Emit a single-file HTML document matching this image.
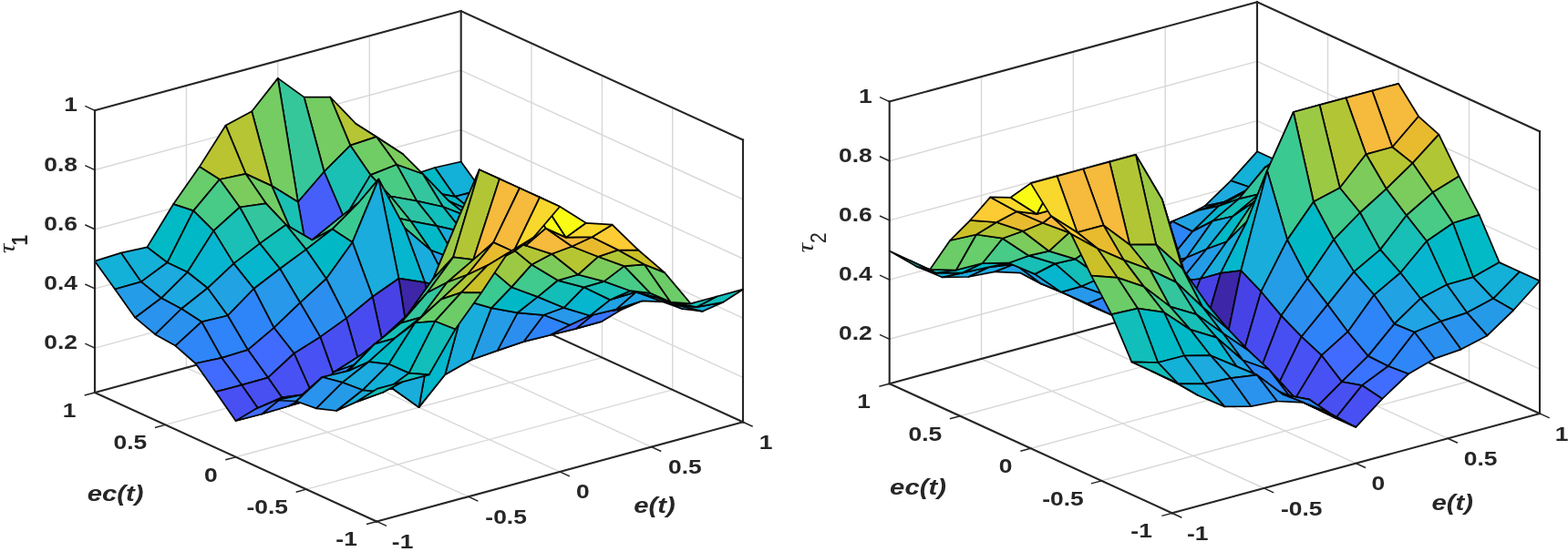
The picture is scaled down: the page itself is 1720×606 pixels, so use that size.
<!DOCTYPE html>
<html><head><meta charset="utf-8"><title>Fuzzy control surfaces</title>
<style>
html,body{margin:0;padding:0;background:#fff;}
body{width:1720px;height:606px;overflow:hidden;}
svg{display:block;filter:blur(0.55px);}
text{font-family:"Liberation Sans",Arial,sans-serif;font-weight:bold;fill:#262626;}
</style></head><body>
<svg width="1720" height="606" viewBox="0 0 1720 606">
<rect width="1720" height="606" fill="#ffffff"/>
<line x1="513.7" y1="545.2" x2="204.4" y2="403.7" stroke="#d8d8d8" stroke-width="1.4"/>
<line x1="336.0" y1="537.1" x2="737.7" y2="427.9" stroke="#d8d8d8" stroke-width="1.4"/>
<line x1="204.4" y1="403.7" x2="204.4" y2="94.0" stroke="#d8d8d8" stroke-width="1.4"/>
<line x1="737.7" y1="427.9" x2="737.7" y2="118.2" stroke="#d8d8d8" stroke-width="1.4"/>
<line x1="614.1" y1="517.9" x2="304.8" y2="376.4" stroke="#d8d8d8" stroke-width="1.4"/>
<line x1="258.6" y1="501.8" x2="660.4" y2="392.6" stroke="#d8d8d8" stroke-width="1.4"/>
<line x1="304.8" y1="376.4" x2="304.8" y2="66.7" stroke="#d8d8d8" stroke-width="1.4"/>
<line x1="660.4" y1="392.6" x2="660.4" y2="82.9" stroke="#d8d8d8" stroke-width="1.4"/>
<line x1="714.6" y1="490.6" x2="405.3" y2="349.1" stroke="#d8d8d8" stroke-width="1.4"/>
<line x1="181.3" y1="466.4" x2="583.0" y2="357.2" stroke="#d8d8d8" stroke-width="1.4"/>
<line x1="405.3" y1="349.1" x2="405.3" y2="39.4" stroke="#d8d8d8" stroke-width="1.4"/>
<line x1="583.0" y1="357.2" x2="583.0" y2="47.5" stroke="#d8d8d8" stroke-width="1.4"/>
<line x1="104.0" y1="382.1" x2="505.7" y2="272.9" stroke="#d8d8d8" stroke-width="1.4"/>
<line x1="505.7" y1="272.9" x2="815.0" y2="414.4" stroke="#d8d8d8" stroke-width="1.4"/>
<line x1="104.0" y1="316.9" x2="505.7" y2="207.7" stroke="#d8d8d8" stroke-width="1.4"/>
<line x1="505.7" y1="207.7" x2="815.0" y2="349.2" stroke="#d8d8d8" stroke-width="1.4"/>
<line x1="104.0" y1="251.7" x2="505.7" y2="142.5" stroke="#d8d8d8" stroke-width="1.4"/>
<line x1="505.7" y1="142.5" x2="815.0" y2="284.0" stroke="#d8d8d8" stroke-width="1.4"/>
<line x1="104.0" y1="186.5" x2="505.7" y2="77.3" stroke="#d8d8d8" stroke-width="1.4"/>
<line x1="505.7" y1="77.3" x2="815.0" y2="218.8" stroke="#d8d8d8" stroke-width="1.4"/>
<line x1="104.0" y1="431.0" x2="505.7" y2="321.8" stroke="#262626" stroke-width="2.1" stroke-linecap="square"/>
<line x1="505.7" y1="321.8" x2="815.0" y2="463.3" stroke="#262626" stroke-width="2.1" stroke-linecap="square"/>
<line x1="505.7" y1="321.8" x2="505.7" y2="12.1" stroke="#262626" stroke-width="2.1" stroke-linecap="square"/>
<line x1="104.0" y1="121.3" x2="505.7" y2="12.1" stroke="#262626" stroke-width="2.1" stroke-linecap="square"/>
<line x1="505.7" y1="12.1" x2="815.0" y2="153.6" stroke="#262626" stroke-width="2.1" stroke-linecap="square"/>
<line x1="815.0" y1="463.3" x2="815.0" y2="153.6" stroke="#262626" stroke-width="2.1" stroke-linecap="square"/>
<g stroke="#050505" stroke-width="1.75" stroke-linejoin="round"><polygon points="499.1,215.8 527.8,208.3 505.7,177.5 477.0,184.0" fill="#13b0d7"/><polygon points="470.4,210.3 499.1,215.8 477.0,184.0 448.3,193.4" fill="#01bac5"/><polygon points="441.7,169.0 470.4,210.3 448.3,193.4 419.6,161.8" fill="#68cd6b"/><polygon points="413.0,150.2 441.7,169.0 419.6,161.8 390.9,136.3" fill="#b9c430"/><polygon points="384.3,159.7 413.0,150.2 390.9,136.3 362.2,106.5" fill="#b5c533"/><polygon points="355.6,188.5 384.3,159.7 362.2,106.5 333.5,106.6" fill="#74cc62"/><polygon points="326.9,221.8 355.6,188.5 333.5,106.6 304.8,85.9" fill="#35c79a"/><polygon points="298.2,204.1 326.9,221.8 304.8,85.9 276.2,122.2" fill="#74cc62"/><polygon points="269.6,190.9 298.2,204.1 276.2,122.2 247.5,137.7" fill="#b5c533"/><polygon points="240.9,197.0 269.6,190.9 247.5,137.7 218.8,183.1" fill="#b9c430"/><polygon points="212.2,231.4 240.9,197.0 218.8,183.1 190.1,224.2" fill="#68cd6b"/><polygon points="183.5,288.3 212.2,231.4 190.1,224.2 161.4,271.4" fill="#01bac5"/><polygon points="154.8,309.4 183.5,288.3 161.4,271.4 132.7,277.6" fill="#13b0d7"/><polygon points="126.1,317.5 154.8,309.4 132.7,277.6 104.0,286.7" fill="#13b0d7"/><polygon points="521.2,233.7 549.9,239.5 527.8,208.3 499.1,215.8" fill="#1caadf"/><polygon points="492.5,220.8 521.2,233.7 499.1,215.8 470.4,210.3" fill="#01b9c6"/><polygon points="463.8,191.0 492.5,220.8 470.4,210.3 441.7,169.0" fill="#47cb87"/><polygon points="435.1,180.7 463.8,191.0 441.7,169.0 413.0,150.2" fill="#7bcc5d"/><polygon points="406.4,192.1 435.1,180.7 413.0,150.2 384.3,159.7" fill="#70cd65"/><polygon points="377.7,240.0 406.4,192.1 384.3,159.7 355.6,188.5" fill="#1bc0b4"/><polygon points="349.0,344.9 377.7,240.0 355.6,188.5 326.9,221.8" fill="#465ffb"/><polygon points="320.3,255.6 349.0,344.9 326.9,221.8 298.2,204.1" fill="#1bc0b4"/><polygon points="291.7,223.3 320.3,255.6 298.2,204.1 269.6,190.9" fill="#70cd65"/><polygon points="263.0,227.5 291.7,223.3 269.6,190.9 240.9,197.0" fill="#7bcc5d"/><polygon points="234.3,253.4 263.0,227.5 240.9,197.0 212.2,231.4" fill="#47cb87"/><polygon points="205.6,298.8 234.3,253.4 212.2,231.4 183.5,288.3" fill="#01b9c6"/><polygon points="176.9,327.3 205.6,298.8 183.5,288.3 154.8,309.4" fill="#1caadf"/><polygon points="148.2,348.7 176.9,327.3 154.8,309.4 126.1,317.5" fill="#259ce7"/><polygon points="543.3,245.4 572.0,258.0 549.9,239.5 521.2,233.7" fill="#1da8e0"/><polygon points="514.6,238.3 543.3,245.4 521.2,233.7 492.5,220.8" fill="#08b5d0"/><polygon points="485.9,227.0 514.6,238.3 492.5,220.8 463.8,191.0" fill="#1ac0b5"/><polygon points="457.2,220.6 485.9,227.0 463.8,191.0 435.1,180.7" fill="#33c69e"/><polygon points="428.5,215.5 457.2,220.6 435.1,180.7 406.4,192.1" fill="#4acb84"/><polygon points="399.8,247.8 428.5,215.5 406.4,192.1 377.7,240.0" fill="#20c1b1"/><polygon points="371.1,240.1 399.8,247.8 377.7,240.0 349.0,344.9" fill="#37c897"/><polygon points="342.4,263.4 371.1,240.1 349.0,344.9 320.3,255.6" fill="#20c1b1"/><polygon points="313.7,246.7 342.4,263.4 320.3,255.6 291.7,223.3" fill="#4acb84"/><polygon points="285.0,267.4 313.7,246.7 291.7,223.3 263.0,227.5" fill="#33c69e"/><polygon points="256.4,289.4 285.0,267.4 263.0,227.5 234.3,253.4" fill="#1ac0b5"/><polygon points="227.7,316.3 256.4,289.4 234.3,253.4 205.6,298.8" fill="#08b5d0"/><polygon points="199.0,339.0 227.7,316.3 205.6,298.8 176.9,327.3" fill="#1da8e0"/><polygon points="170.3,367.2 199.0,339.0 176.9,327.3 148.2,348.7" fill="#2a93ed"/><polygon points="565.4,259.7 594.1,270.4 572.0,258.0 543.3,245.4" fill="#20a4e3"/><polygon points="536.7,268.5 565.4,259.7 543.3,245.4 514.6,238.3" fill="#21a3e3"/><polygon points="508.0,254.6 536.7,268.5 514.6,238.3 485.9,227.0" fill="#05b6ce"/><polygon points="479.3,248.2 508.0,254.6 485.9,227.0 457.2,220.6" fill="#11beba"/><polygon points="450.6,242.7 479.3,248.2 457.2,220.6 428.5,215.5" fill="#2dc4a5"/><polygon points="421.9,236.0 450.6,242.7 428.5,215.5 399.8,247.8" fill="#44cb8a"/><polygon points="393.2,222.7 421.9,236.0 399.8,247.8 371.1,240.1" fill="#81cc59"/><polygon points="364.5,251.6 393.2,222.7 371.1,240.1 342.4,263.4" fill="#44cb8a"/><polygon points="335.8,273.9 364.5,251.6 342.4,263.4 313.7,246.7" fill="#2dc4a5"/><polygon points="307.1,295.0 335.8,273.9 313.7,246.7 285.0,267.4" fill="#11beba"/><polygon points="278.4,317.0 307.1,295.0 285.0,267.4 256.4,289.4" fill="#05b6ce"/><polygon points="249.8,346.5 278.4,317.0 256.4,289.4 227.7,316.3" fill="#21a3e3"/><polygon points="221.1,353.3 249.8,346.5 227.7,316.3 199.0,339.0" fill="#20a4e3"/><polygon points="192.4,379.6 221.1,353.3 199.0,339.0 170.3,367.2" fill="#2b91ef"/><polygon points="587.5,299.3 616.2,289.8 594.1,270.4 565.4,259.7" fill="#2e84f8"/><polygon points="558.8,306.1 587.5,299.3 565.4,259.7 536.7,268.5" fill="#2e85f8"/><polygon points="530.1,297.4 558.8,306.1 536.7,268.5 508.0,254.6" fill="#2798ea"/><polygon points="501.4,285.5 530.1,297.4 508.0,254.6 479.3,248.2" fill="#1aabdd"/><polygon points="472.7,274.8 501.4,285.5 479.3,248.2 450.6,242.7" fill="#01b9c6"/><polygon points="444.0,250.3 472.7,274.8 450.6,242.7 421.9,236.0" fill="#3bc992"/><polygon points="415.3,196.6 444.0,250.3 421.9,236.0 393.2,222.7" fill="#e5bb2d"/><polygon points="386.6,265.9 415.3,196.6 393.2,222.7 364.5,251.6" fill="#3bc992"/><polygon points="357.9,306.0 386.6,265.9 364.5,251.6 335.8,273.9" fill="#01b9c6"/><polygon points="329.2,332.3 357.9,306.0 335.8,273.9 307.1,295.0" fill="#1aabdd"/><polygon points="300.5,359.8 329.2,332.3 307.1,295.0 278.4,317.0" fill="#2798ea"/><polygon points="271.9,384.1 300.5,359.8 278.4,317.0 249.8,346.5" fill="#2e85f8"/><polygon points="243.2,392.9 271.9,384.1 249.8,346.5 221.1,353.3" fill="#2e84f8"/><polygon points="214.5,399.0 243.2,392.9 221.1,353.3 192.4,379.6" fill="#2e86f7"/><polygon points="609.6,329.1 638.3,321.0 616.2,289.8 587.5,299.3" fill="#416bfe"/><polygon points="580.9,336.6 609.6,329.1 587.5,299.3 558.8,306.1" fill="#416bfe"/><polygon points="552.2,325.6 580.9,336.6 558.8,306.1 530.1,297.4" fill="#2e83f9"/><polygon points="523.5,323.1 552.2,325.6 530.1,297.4 501.4,285.5" fill="#2c8ff0"/><polygon points="494.8,318.2 523.5,323.1 501.4,285.5 472.7,274.8" fill="#259de7"/><polygon points="466.1,310.2 494.8,318.2 472.7,274.8 444.0,250.3" fill="#19acdc"/><polygon points="437.4,305.7 466.1,310.2 444.0,250.3 415.3,196.6" fill="#05b6ce"/><polygon points="408.7,325.8 437.4,305.7 415.3,196.6 386.6,265.9" fill="#19acdc"/><polygon points="380.0,349.4 408.7,325.8 386.6,265.9 357.9,306.0" fill="#259de7"/><polygon points="351.3,369.9 380.0,349.4 357.9,306.0 329.2,332.3" fill="#2c8ff0"/><polygon points="322.6,388.0 351.3,369.9 329.2,332.3 300.5,359.8" fill="#2e83f9"/><polygon points="293.9,414.6 322.6,388.0 300.5,359.8 271.9,384.1" fill="#416bfe"/><polygon points="265.2,422.7 293.9,414.6 271.9,384.1 243.2,392.9" fill="#416bfe"/><polygon points="236.6,430.2 265.2,422.7 243.2,392.9 214.5,399.0" fill="#416bfe"/><polygon points="631.7,360.9 660.4,352.8 638.3,321.0 609.6,329.1" fill="#4850f2"/><polygon points="603.0,368.0 631.7,360.9 609.6,329.1 580.9,336.6" fill="#4851f3"/><polygon points="574.3,375.2 603.0,368.0 580.9,336.6 552.2,325.6" fill="#4851f4"/><polygon points="545.6,384.9 574.3,375.2 552.2,325.6 523.5,323.1" fill="#484ff2"/><polygon points="516.9,395.0 545.6,384.9 523.5,323.1 494.8,318.2" fill="#484cf0"/><polygon points="488.2,411.2 516.9,395.0 494.8,318.2 466.1,310.2" fill="#4742e6"/><polygon points="459.5,447.1 488.2,411.2 466.1,310.2 437.4,305.7" fill="#3e26a8"/><polygon points="430.8,426.8 459.5,447.1 437.4,305.7 408.7,325.8" fill="#4742e6"/><polygon points="402.1,426.2 430.8,426.8 408.7,325.8 380.0,349.4" fill="#484cf0"/><polygon points="373.4,431.7 402.1,426.2 380.0,349.4 351.3,369.9" fill="#484ff2"/><polygon points="344.7,437.6 373.4,431.7 351.3,369.9 322.6,388.0" fill="#4851f4"/><polygon points="316.0,446.0 344.7,437.6 322.6,388.0 293.9,414.6" fill="#4851f3"/><polygon points="287.3,454.5 316.0,446.0 293.9,414.6 265.2,422.7" fill="#4850f2"/><polygon points="258.6,462.0 287.3,454.5 265.2,422.7 236.6,430.2" fill="#4850f3"/><polygon points="653.8,342.8 682.4,339.6 660.4,352.8 631.7,360.9" fill="#3a73fe"/><polygon points="625.1,356.8 653.8,342.8 631.7,360.9 603.0,368.0" fill="#416bfe"/><polygon points="596.4,345.8 625.1,356.8 603.0,368.0 574.3,375.2" fill="#2e83f9"/><polygon points="567.7,343.3 596.4,345.8 574.3,375.2 545.6,384.9" fill="#2c8ff0"/><polygon points="539.0,338.1 567.7,343.3 545.6,384.9 516.9,395.0" fill="#249de6"/><polygon points="510.3,329.8 539.0,338.1 516.9,395.0 488.2,411.2" fill="#19addc"/><polygon points="481.6,324.6 510.3,329.8 488.2,411.2 459.5,447.1" fill="#03b7cc"/><polygon points="452.9,345.4 481.6,324.6 459.5,447.1 430.8,426.8" fill="#19addc"/><polygon points="424.2,369.3 452.9,345.4 430.8,426.8 402.1,426.2" fill="#249de6"/><polygon points="395.5,390.1 424.2,369.3 402.1,426.2 373.4,431.7" fill="#2c8ff0"/><polygon points="366.8,408.2 395.5,390.1 373.4,431.7 344.7,437.6" fill="#2e83f9"/><polygon points="338.1,434.8 366.8,408.2 344.7,437.6 316.0,446.0" fill="#416bfe"/><polygon points="309.4,436.4 338.1,434.8 316.0,446.0 287.3,454.5" fill="#3a73fe"/><polygon points="280.7,448.8 309.4,436.4 287.3,454.5 258.6,462.0" fill="#406dfe"/><polygon points="675.8,339.7 704.5,330.3 682.4,339.6 653.8,342.8" fill="#2e84f8"/><polygon points="647.1,346.5 675.8,339.7 653.8,342.8 625.1,356.8" fill="#2e85f8"/><polygon points="618.5,337.8 647.1,346.5 625.1,356.8 596.4,345.8" fill="#2798ea"/><polygon points="589.8,325.9 618.5,337.8 596.4,345.8 567.7,343.3" fill="#1aabdd"/><polygon points="561.1,315.2 589.8,325.9 567.7,343.3 539.0,338.1" fill="#01b9c6"/><polygon points="532.4,290.7 561.1,315.2 539.0,338.1 510.3,329.8" fill="#3bc992"/><polygon points="503.7,237.7 532.4,290.7 510.3,329.8 481.6,324.6" fill="#e3bb2c"/><polygon points="475.0,306.3 503.7,237.7 481.6,324.6 452.9,345.4" fill="#3bc992"/><polygon points="446.3,346.4 475.0,306.3 452.9,345.4 424.2,369.3" fill="#01b9c6"/><polygon points="417.6,372.7 446.3,346.4 424.2,369.3 395.5,390.1" fill="#1aabdd"/><polygon points="388.9,400.2 417.6,372.7 395.5,390.1 366.8,408.2" fill="#2798ea"/><polygon points="360.2,424.5 388.9,400.2 366.8,408.2 338.1,434.8" fill="#2e85f8"/><polygon points="331.5,433.3 360.2,424.5 338.1,434.8 309.4,436.4" fill="#2e84f8"/><polygon points="302.8,439.5 331.5,433.3 309.4,436.4 280.7,448.8" fill="#2e86f7"/><polygon points="697.9,320.4 726.6,331.3 704.5,330.3 675.8,339.7" fill="#20a4e3"/><polygon points="669.2,329.1 697.9,320.4 675.8,339.7 647.1,346.5" fill="#21a3e3"/><polygon points="640.5,315.3 669.2,329.1 647.1,346.5 618.5,337.8" fill="#05b6ce"/><polygon points="611.9,307.8 640.5,315.3 618.5,337.8 589.8,325.9" fill="#14beb8"/><polygon points="583.2,290.4 611.9,307.8 589.8,325.9 561.1,315.2" fill="#40ca8d"/><polygon points="554.5,266.8 583.2,290.4 561.1,315.2 532.4,290.7" fill="#9cc944"/><polygon points="525.8,186.3 554.5,266.8 532.4,290.7 503.7,237.7" fill="#f9fb15"/><polygon points="497.1,282.4 525.8,186.3 503.7,237.7 475.0,306.3" fill="#9cc944"/><polygon points="468.4,321.6 497.1,282.4 475.0,306.3 446.3,346.4" fill="#40ca8d"/><polygon points="439.7,354.6 468.4,321.6 446.3,346.4 417.6,372.7" fill="#14beb8"/><polygon points="411.0,377.7 439.7,354.6 417.6,372.7 388.9,400.2" fill="#05b6ce"/><polygon points="382.3,407.1 411.0,377.7 388.9,400.2 360.2,424.5" fill="#21a3e3"/><polygon points="353.6,414.0 382.3,407.1 360.2,424.5 331.5,433.3" fill="#20a4e3"/><polygon points="324.9,440.5 353.6,414.0 331.5,433.3 302.8,439.5" fill="#2b90ef"/><polygon points="720.0,326.3 748.7,339.2 726.6,331.3 697.9,320.4" fill="#1da8e0"/><polygon points="691.3,319.2 720.0,326.3 697.9,320.4 669.2,329.1" fill="#08b5d0"/><polygon points="662.6,308.9 691.3,319.2 669.2,329.1 640.5,315.3" fill="#17bfb6"/><polygon points="634.0,301.5 662.6,308.9 640.5,315.3 611.9,307.8" fill="#33c69e"/><polygon points="605.3,278.8 634.0,301.5 611.9,307.8 583.2,290.4" fill="#7dcc5b"/><polygon points="576.6,269.5 605.3,278.8 583.2,290.4 554.5,266.8" fill="#b2c635"/><polygon points="547.9,196.4 576.6,269.5 554.5,266.8 525.8,186.3" fill="#f9fb15"/><polygon points="519.2,285.1 547.9,196.4 525.8,186.3 497.1,282.4" fill="#b2c635"/><polygon points="490.5,310.0 519.2,285.1 497.1,282.4 468.4,321.6" fill="#7dcc5b"/><polygon points="461.8,348.3 490.5,310.0 468.4,321.6 439.7,354.6" fill="#33c69e"/><polygon points="433.1,371.3 461.8,348.3 439.7,354.6 411.0,377.7" fill="#17bfb6"/><polygon points="404.4,397.2 433.1,371.3 411.0,377.7 382.3,407.1" fill="#08b5d0"/><polygon points="375.7,419.9 404.4,397.2 382.3,407.1 353.6,414.0" fill="#1da8e0"/><polygon points="347.0,448.4 375.7,419.9 353.6,414.0 324.9,440.5" fill="#2a93ee"/><polygon points="742.1,334.7 770.8,341.8 748.7,339.2 720.0,326.3" fill="#1caadf"/><polygon points="713.4,321.8 742.1,334.7 720.0,326.3 691.3,319.2" fill="#01b9c6"/><polygon points="684.7,292.1 713.4,321.8 691.3,319.2 662.6,308.9" fill="#47cb87"/><polygon points="656.0,281.8 684.7,292.1 662.6,308.9 634.0,301.5" fill="#7bcc5d"/><polygon points="627.4,270.5 656.0,281.8 634.0,301.5 605.3,278.8" fill="#b6c532"/><polygon points="598.7,250.5 627.4,270.5 605.3,278.8 576.6,269.5" fill="#f6ba3c"/><polygon points="570.0,206.5 598.7,250.5 576.6,269.5 547.9,196.4" fill="#f9fb15"/><polygon points="541.3,266.1 570.0,206.5 547.9,196.4 519.2,285.1" fill="#f6ba3c"/><polygon points="512.6,301.7 541.3,266.1 519.2,285.1 490.5,310.0" fill="#b6c532"/><polygon points="483.9,328.6 512.6,301.7 490.5,310.0 461.8,348.3" fill="#7bcc5d"/><polygon points="455.2,354.5 483.9,328.6 461.8,348.3 433.1,371.3" fill="#47cb87"/><polygon points="426.5,399.8 455.2,354.5 433.1,371.3 404.4,397.2" fill="#01b9c6"/><polygon points="397.8,428.3 426.5,399.8 404.4,397.2 375.7,419.9" fill="#1caadf"/><polygon points="369.1,451.0 397.8,428.3 375.7,419.9 347.0,448.4" fill="#259be8"/><polygon points="764.2,337.1 792.9,331.9 770.8,341.8 742.1,334.7" fill="#13b0d7"/><polygon points="735.5,331.6 764.2,337.1 742.1,334.7 713.4,321.8" fill="#01bac5"/><polygon points="706.8,290.3 735.5,331.6 713.4,321.8 684.7,292.1" fill="#68cd6b"/><polygon points="678.1,274.4 706.8,290.3 684.7,292.1 656.0,281.8" fill="#b1c635"/><polygon points="649.4,260.2 678.1,274.4 656.0,281.8 627.4,270.5" fill="#e8bb2f"/><polygon points="620.8,260.6 649.4,260.2 627.4,270.5 598.7,250.5" fill="#f6ba3c"/><polygon points="592.1,216.6 620.8,260.6 598.7,250.5 570.0,206.5" fill="#f9fb15"/><polygon points="563.4,276.2 592.1,216.6 570.0,206.5 541.3,266.1" fill="#f6ba3c"/><polygon points="534.7,291.4 563.4,276.2 541.3,266.1 512.6,301.7" fill="#e8bb2f"/><polygon points="506.0,321.2 534.7,291.4 512.6,301.7 483.9,328.6" fill="#b1c635"/><polygon points="477.3,352.7 506.0,321.2 483.9,328.6 455.2,354.5" fill="#68cd6b"/><polygon points="448.6,409.6 477.3,352.7 455.2,354.5 426.5,399.8" fill="#01bac5"/><polygon points="419.9,430.7 448.6,409.6 426.5,399.8 397.8,428.3" fill="#13b0d7"/><polygon points="391.2,441.1 419.9,430.7 397.8,428.3 369.1,451.0" fill="#17aeda"/><polygon points="786.3,325.5 815.0,317.7 792.9,331.9 764.2,337.1" fill="#12beb9"/><polygon points="757.6,333.3 786.3,325.5 764.2,337.1 735.5,331.6" fill="#12beb9"/><polygon points="728.9,299.1 757.6,333.3 735.5,331.6 706.8,290.3" fill="#6ccd68"/><polygon points="700.2,274.5 728.9,299.1 706.8,290.3 678.1,274.4" fill="#ccc028"/><polygon points="671.5,246.7 700.2,274.5 678.1,274.4 649.4,260.2" fill="#fdcb33"/><polygon points="642.8,244.8 671.5,246.7 649.4,260.2 620.8,260.6" fill="#f8d82c"/><polygon points="614.1,226.8 642.8,244.8 620.8,260.6 592.1,216.6" fill="#f9fb15"/><polygon points="585.5,260.4 614.1,226.8 592.1,216.6 563.4,276.2" fill="#f8d82c"/><polygon points="556.8,277.9 585.5,260.4 563.4,276.2 534.7,291.4" fill="#fdcb33"/><polygon points="528.1,321.3 556.8,277.9 534.7,291.4 506.0,321.2" fill="#ccc028"/><polygon points="499.4,361.5 528.1,321.3 506.0,321.2 477.3,352.7" fill="#6ccd68"/><polygon points="470.7,411.3 499.4,361.5 477.3,352.7 448.6,409.6" fill="#12beb9"/><polygon points="442.0,419.1 470.7,411.3 448.6,409.6 419.9,430.7" fill="#12beb9"/><polygon points="413.3,426.9 442.0,419.1 419.9,430.7 391.2,441.1" fill="#12beb9"/></g>
<line x1="104.0" y1="431.0" x2="104.0" y2="121.3" stroke="#262626" stroke-width="2.1" stroke-linecap="square"/>
<line x1="104.0" y1="431.0" x2="413.3" y2="572.5" stroke="#262626" stroke-width="2.1" stroke-linecap="square"/>
<line x1="413.3" y1="572.5" x2="815.0" y2="463.3" stroke="#262626" stroke-width="2.1" stroke-linecap="square"/>
<line x1="413.3" y1="572.5" x2="423.3" y2="577.1" stroke="#262626" stroke-width="1.5" stroke-linecap="square"/>
<line x1="413.3" y1="572.5" x2="402.7" y2="575.4" stroke="#262626" stroke-width="1.5" stroke-linecap="square"/>
<line x1="513.7" y1="545.2" x2="523.7" y2="549.8" stroke="#262626" stroke-width="1.5" stroke-linecap="square"/>
<line x1="336.0" y1="537.1" x2="325.4" y2="540.0" stroke="#262626" stroke-width="1.5" stroke-linecap="square"/>
<line x1="614.1" y1="517.9" x2="624.2" y2="522.5" stroke="#262626" stroke-width="1.5" stroke-linecap="square"/>
<line x1="258.6" y1="501.8" x2="248.0" y2="504.6" stroke="#262626" stroke-width="1.5" stroke-linecap="square"/>
<line x1="714.6" y1="490.6" x2="724.6" y2="495.2" stroke="#262626" stroke-width="1.5" stroke-linecap="square"/>
<line x1="181.3" y1="466.4" x2="170.7" y2="469.3" stroke="#262626" stroke-width="1.5" stroke-linecap="square"/>
<line x1="815.0" y1="463.3" x2="825.0" y2="467.9" stroke="#262626" stroke-width="1.5" stroke-linecap="square"/>
<line x1="104.0" y1="431.0" x2="93.4" y2="433.9" stroke="#262626" stroke-width="1.5" stroke-linecap="square"/>
<line x1="104.0" y1="382.1" x2="94.0" y2="377.5" stroke="#262626" stroke-width="1.5" stroke-linecap="square"/>
<line x1="104.0" y1="316.9" x2="94.0" y2="312.3" stroke="#262626" stroke-width="1.5" stroke-linecap="square"/>
<line x1="104.0" y1="251.7" x2="94.0" y2="247.1" stroke="#262626" stroke-width="1.5" stroke-linecap="square"/>
<line x1="104.0" y1="186.5" x2="94.0" y2="181.9" stroke="#262626" stroke-width="1.5" stroke-linecap="square"/>
<line x1="104.0" y1="121.3" x2="94.0" y2="116.7" stroke="#262626" stroke-width="1.5" stroke-linecap="square"/>
<text transform="translate(85.0,122.4) scale(1.200,1)" font-size="22" text-anchor="end" font-weight="bold">1</text>
<text transform="translate(85.0,187.6) scale(1.200,1)" font-size="22" text-anchor="end" font-weight="bold">0.8</text>
<text transform="translate(85.0,252.8) scale(1.200,1)" font-size="22" text-anchor="end" font-weight="bold">0.6</text>
<text transform="translate(85.0,318.0) scale(1.200,1)" font-size="22" text-anchor="end" font-weight="bold">0.4</text>
<text transform="translate(85.0,383.2) scale(1.200,1)" font-size="22" text-anchor="end" font-weight="bold">0.2</text>
<text transform="translate(76.2,457.5) scale(1.200,1)" font-size="22" text-anchor="middle" font-weight="bold">1</text>
<text transform="translate(142.9,493.4) scale(1.200,1)" font-size="22" text-anchor="middle" font-weight="bold">0.5</text>
<text transform="translate(231.3,528.9) scale(1.200,1)" font-size="22" text-anchor="middle" font-weight="bold">0</text>
<text transform="translate(293.2,563.7) scale(1.200,1)" font-size="22" text-anchor="middle" font-weight="bold">-0.5</text>
<text transform="translate(380.1,599.0) scale(1.200,1)" font-size="22" text-anchor="middle" font-weight="bold">-1</text>
<text transform="translate(441.6,601.7) scale(1.200,1)" font-size="22" text-anchor="middle" font-weight="bold">-1</text>
<text transform="translate(555.1,574.7) scale(1.200,1)" font-size="22" text-anchor="middle" font-weight="bold">-0.5</text>
<text transform="translate(639.3,547.4) scale(1.200,1)" font-size="22" text-anchor="middle" font-weight="bold">0</text>
<text transform="translate(751.3,520.4) scale(1.200,1)" font-size="22" text-anchor="middle" font-weight="bold">0.5</text>
<text transform="translate(840.0,493.3) scale(1.200,1)" font-size="22" text-anchor="middle" font-weight="bold">1</text>
<text transform="translate(126.7,549.9) scale(1.220,1)" font-size="24" text-anchor="middle" font-weight="bold" font-style="italic">ec(t)</text>
<text transform="translate(718.0,563.4) scale(1.220,1)" font-size="24" text-anchor="middle" font-weight="bold" font-style="italic">e(t)</text>
<text transform="translate(15.7,278.2) rotate(-90) scale(1.3,1.12)" style="font-family:'Liberation Serif',serif;font-weight:normal;font-style:italic" font-size="23">τ</text>
<text transform="translate(29.7,269.4) rotate(-90) scale(1,1.18)" style="font-weight:bold" font-size="21">1</text><line x1="1386.5" y1="536.0" x2="1076.5" y2="393.9" stroke="#d8d8d8" stroke-width="1.4"/>
<line x1="1208.2" y1="527.8" x2="1611.5" y2="418.5" stroke="#d8d8d8" stroke-width="1.4"/>
<line x1="1076.5" y1="393.9" x2="1076.5" y2="84.2" stroke="#d8d8d8" stroke-width="1.4"/>
<line x1="1611.5" y1="418.5" x2="1611.5" y2="108.8" stroke="#d8d8d8" stroke-width="1.4"/>
<line x1="1487.3" y1="508.6" x2="1177.3" y2="366.6" stroke="#d8d8d8" stroke-width="1.4"/>
<line x1="1130.7" y1="492.2" x2="1534.0" y2="383.0" stroke="#d8d8d8" stroke-width="1.4"/>
<line x1="1177.3" y1="366.6" x2="1177.3" y2="56.9" stroke="#d8d8d8" stroke-width="1.4"/>
<line x1="1534.0" y1="383.0" x2="1534.0" y2="73.3" stroke="#d8d8d8" stroke-width="1.4"/>
<line x1="1588.2" y1="481.3" x2="1278.2" y2="339.2" stroke="#d8d8d8" stroke-width="1.4"/>
<line x1="1053.2" y1="456.7" x2="1456.5" y2="347.4" stroke="#d8d8d8" stroke-width="1.4"/>
<line x1="1278.2" y1="339.2" x2="1278.2" y2="29.5" stroke="#d8d8d8" stroke-width="1.4"/>
<line x1="1456.5" y1="347.4" x2="1456.5" y2="37.7" stroke="#d8d8d8" stroke-width="1.4"/>
<line x1="975.7" y1="372.3" x2="1379.0" y2="263.0" stroke="#d8d8d8" stroke-width="1.4"/>
<line x1="1379.0" y1="263.0" x2="1689.0" y2="405.1" stroke="#d8d8d8" stroke-width="1.4"/>
<line x1="975.7" y1="307.1" x2="1379.0" y2="197.8" stroke="#d8d8d8" stroke-width="1.4"/>
<line x1="1379.0" y1="197.8" x2="1689.0" y2="339.9" stroke="#d8d8d8" stroke-width="1.4"/>
<line x1="975.7" y1="241.9" x2="1379.0" y2="132.6" stroke="#d8d8d8" stroke-width="1.4"/>
<line x1="1379.0" y1="132.6" x2="1689.0" y2="274.7" stroke="#d8d8d8" stroke-width="1.4"/>
<line x1="975.7" y1="176.7" x2="1379.0" y2="67.4" stroke="#d8d8d8" stroke-width="1.4"/>
<line x1="1379.0" y1="67.4" x2="1689.0" y2="209.5" stroke="#d8d8d8" stroke-width="1.4"/>
<line x1="975.7" y1="421.2" x2="1379.0" y2="311.9" stroke="#262626" stroke-width="2.1" stroke-linecap="square"/>
<line x1="1379.0" y1="311.9" x2="1689.0" y2="454.0" stroke="#262626" stroke-width="2.1" stroke-linecap="square"/>
<line x1="1379.0" y1="311.9" x2="1379.0" y2="2.2" stroke="#262626" stroke-width="2.1" stroke-linecap="square"/>
<line x1="975.7" y1="111.5" x2="1379.0" y2="2.2" stroke="#262626" stroke-width="2.1" stroke-linecap="square"/>
<line x1="1379.0" y1="2.2" x2="1689.0" y2="144.3" stroke="#262626" stroke-width="2.1" stroke-linecap="square"/>
<line x1="1689.0" y1="454.0" x2="1689.0" y2="144.3" stroke="#262626" stroke-width="2.1" stroke-linecap="square"/>
<g stroke="#050505" stroke-width="1.75" stroke-linejoin="round"><polygon points="1372.3,206.0 1401.1,176.5 1379.0,166.3 1350.2,198.4" fill="#13b0d7"/><polygon points="1343.5,221.5 1372.3,206.0 1350.2,198.4 1321.4,226.3" fill="#1caadf"/><polygon points="1314.7,231.0 1343.5,221.5 1321.4,226.3 1292.6,241.5" fill="#1da8e0"/><polygon points="1285.9,243.0 1314.7,231.0 1292.6,241.5 1263.8,251.6" fill="#20a4e3"/><polygon points="1257.1,280.2 1285.9,243.0 1263.8,251.6 1235.0,268.4" fill="#2e84f8"/><polygon points="1228.3,301.3 1257.1,280.2 1235.0,268.4 1206.2,295.7" fill="#3a73fe"/><polygon points="1199.5,337.2 1228.3,301.3 1206.2,295.7 1177.3,326.8" fill="#4850f2"/><polygon points="1170.7,316.9 1199.5,337.2 1177.3,326.8 1148.5,311.3" fill="#3a73fe"/><polygon points="1141.9,311.4 1170.7,316.9 1148.5,311.3 1119.7,299.7" fill="#2e84f8"/><polygon points="1113.1,289.8 1141.9,311.4 1119.7,299.7 1090.9,298.4" fill="#20a4e3"/><polygon points="1084.3,293.4 1113.1,289.8 1090.9,298.4 1062.1,304.0" fill="#1da8e0"/><polygon points="1055.5,299.6 1084.3,293.4 1062.1,304.0 1033.3,304.3" fill="#1caadf"/><polygon points="1026.7,299.6 1055.5,299.6 1033.3,304.3 1004.5,292.1" fill="#13b0d7"/><polygon points="997.8,285.8 1026.7,299.6 1004.5,292.1 975.7,275.6" fill="#12beb9"/><polygon points="1394.5,202.8 1423.3,186.6 1401.1,176.5 1372.3,206.0" fill="#01bac5"/><polygon points="1365.7,211.0 1394.5,202.8 1372.3,206.0 1343.5,221.5" fill="#01b9c6"/><polygon points="1336.9,226.2 1365.7,211.0 1343.5,221.5 1314.7,231.0" fill="#08b5d0"/><polygon points="1308.1,254.1 1336.9,226.2 1314.7,231.0 1285.9,243.0" fill="#21a3e3"/><polygon points="1279.2,289.4 1308.1,254.1 1285.9,243.0 1257.1,280.2" fill="#2e85f8"/><polygon points="1250.4,317.6 1279.2,289.4 1257.1,280.2 1228.3,301.3" fill="#416bfe"/><polygon points="1221.6,346.7 1250.4,317.6 1228.3,301.3 1199.5,337.2" fill="#4851f3"/><polygon points="1192.8,333.2 1221.6,346.7 1199.5,337.2 1170.7,316.9" fill="#416bfe"/><polygon points="1164.0,320.6 1192.8,333.2 1170.7,316.9 1141.9,311.4" fill="#2e85f8"/><polygon points="1135.2,300.9 1164.0,320.6 1141.9,311.4 1113.1,289.8" fill="#21a3e3"/><polygon points="1106.4,288.7 1135.2,300.9 1113.1,289.8 1084.3,293.4" fill="#08b5d0"/><polygon points="1077.6,289.0 1106.4,288.7 1084.3,293.4 1055.5,299.6" fill="#01b9c6"/><polygon points="1048.8,296.5 1077.6,289.0 1055.5,299.6 1026.7,299.6" fill="#01bac5"/><polygon points="1020.0,295.9 1048.8,296.5 1026.7,299.6 997.8,285.8" fill="#12beb9"/><polygon points="1416.6,163.8 1445.4,154.7 1423.3,186.6 1394.5,202.8" fill="#68cd6b"/><polygon points="1387.8,183.6 1416.6,163.8 1394.5,202.8 1365.7,211.0" fill="#47cb87"/><polygon points="1359.0,218.3 1387.8,183.6 1365.7,211.0 1336.9,226.2" fill="#17bfb6"/><polygon points="1330.2,242.6 1359.0,218.3 1336.9,226.2 1308.1,254.1" fill="#05b6ce"/><polygon points="1301.4,283.0 1330.2,242.6 1308.1,254.1 1279.2,289.4" fill="#2798ea"/><polygon points="1272.6,309.0 1301.4,283.0 1279.2,289.4 1250.4,317.6" fill="#2e83f9"/><polygon points="1243.8,356.2 1272.6,309.0 1250.4,317.6 1221.6,346.7" fill="#4851f4"/><polygon points="1215.0,324.6 1243.8,356.2 1221.6,346.7 1192.8,333.2" fill="#2e83f9"/><polygon points="1186.2,314.3 1215.0,324.6 1192.8,333.2 1164.0,320.6" fill="#2798ea"/><polygon points="1157.4,289.4 1186.2,314.3 1164.0,320.6 1135.2,300.9" fill="#05b6ce"/><polygon points="1128.6,280.7 1157.4,289.4 1135.2,300.9 1106.4,288.7" fill="#17bfb6"/><polygon points="1099.7,261.7 1128.6,280.7 1106.4,288.7 1077.6,289.0" fill="#47cb87"/><polygon points="1070.9,257.5 1099.7,261.7 1077.6,289.0 1048.8,296.5" fill="#68cd6b"/><polygon points="1042.1,264.0 1070.9,257.5 1048.8,296.5 1020.0,295.9" fill="#6ccd68"/><polygon points="1438.8,150.4 1467.6,132.5 1445.4,154.7 1416.6,163.8" fill="#b1c635"/><polygon points="1410.0,175.6 1438.8,150.4 1416.6,163.8 1387.8,183.6" fill="#7bcc5d"/><polygon points="1381.2,213.2 1410.0,175.6 1387.8,183.6 1359.0,218.3" fill="#33c69e"/><polygon points="1352.3,237.5 1381.2,213.2 1359.0,218.3 1330.2,242.6" fill="#14beb8"/><polygon points="1323.5,273.5 1352.3,237.5 1330.2,242.6 1301.4,283.0" fill="#1aabdd"/><polygon points="1294.7,308.8 1323.5,273.5 1301.4,283.0 1272.6,309.0" fill="#2c8ff0"/><polygon points="1265.9,368.3 1294.7,308.8 1272.6,309.0 1243.8,356.2" fill="#484ff2"/><polygon points="1237.1,324.4 1265.9,368.3 1243.8,356.2 1215.0,324.6" fill="#2c8ff0"/><polygon points="1208.3,304.7 1237.1,324.4 1215.0,324.6 1186.2,314.3" fill="#1aabdd"/><polygon points="1179.5,284.3 1208.3,304.7 1186.2,314.3 1157.4,289.4" fill="#14beb8"/><polygon points="1150.7,275.7 1179.5,284.3 1157.4,289.4 1128.6,280.7" fill="#33c69e"/><polygon points="1121.9,253.7 1150.7,275.7 1128.6,280.7 1099.7,261.7" fill="#7bcc5d"/><polygon points="1093.1,244.0 1121.9,253.7 1099.7,261.7 1070.9,257.5" fill="#b1c635"/><polygon points="1064.3,241.8 1093.1,244.0 1070.9,257.5 1042.1,264.0" fill="#ccc028"/><polygon points="1460.9,138.5 1489.7,107.1 1467.6,132.5 1438.8,150.4" fill="#e8bb2f"/><polygon points="1432.1,166.7 1460.9,138.5 1438.8,150.4 1410.0,175.6" fill="#b6c532"/><polygon points="1403.3,192.9 1432.1,166.7 1410.0,175.6 1381.2,213.2" fill="#7dcc5b"/><polygon points="1374.5,222.4 1403.3,192.9 1381.2,213.2 1352.3,237.5" fill="#40ca8d"/><polygon points="1345.7,265.2 1374.5,222.4 1352.3,237.5 1323.5,273.5" fill="#01b9c6"/><polygon points="1316.9,306.0 1345.7,265.2 1323.5,273.5 1294.7,308.8" fill="#249de6"/><polygon points="1288.1,380.7 1316.9,306.0 1294.7,308.8 1265.9,368.3" fill="#484cf0"/><polygon points="1259.3,321.6 1288.1,380.7 1265.9,368.3 1237.1,324.4" fill="#249de6"/><polygon points="1230.5,296.4 1259.3,321.6 1237.1,324.4 1208.3,304.7" fill="#01b9c6"/><polygon points="1201.6,269.3 1230.5,296.4 1208.3,304.7 1179.5,284.3" fill="#40ca8d"/><polygon points="1172.8,255.4 1201.6,269.3 1179.5,284.3 1150.7,275.7" fill="#7dcc5b"/><polygon points="1144.0,244.8 1172.8,255.4 1150.7,275.7 1121.9,253.7" fill="#b6c532"/><polygon points="1115.2,232.2 1144.0,244.8 1121.9,253.7 1093.1,244.0" fill="#e8bb2f"/><polygon points="1086.4,216.4 1115.2,232.2 1093.1,244.0 1064.3,241.8" fill="#fdcb33"/><polygon points="1483.0,141.2 1511.9,107.5 1489.7,107.1 1460.9,138.5" fill="#f6ba3c"/><polygon points="1454.2,149.0 1483.0,141.2 1460.9,138.5 1432.1,166.7" fill="#f6ba3c"/><polygon points="1425.4,185.9 1454.2,149.0 1432.1,166.7 1403.3,192.9" fill="#b2c635"/><polygon points="1396.6,201.2 1425.4,185.9 1403.3,192.9 1374.5,222.4" fill="#9cc944"/><polygon points="1367.8,243.0 1396.6,201.2 1374.5,222.4 1345.7,265.2" fill="#3bc992"/><polygon points="1339.0,299.9 1367.8,243.0 1345.7,265.2 1316.9,306.0" fill="#19addc"/><polygon points="1310.2,399.3 1339.0,299.9 1316.9,306.0 1288.1,380.7" fill="#4742e6"/><polygon points="1281.4,315.6 1310.2,399.3 1288.1,380.7 1259.3,321.6" fill="#19addc"/><polygon points="1252.6,274.2 1281.4,315.6 1259.3,321.6 1230.5,296.4" fill="#3bc992"/><polygon points="1223.8,248.0 1252.6,274.2 1230.5,296.4 1201.6,269.3" fill="#9cc944"/><polygon points="1195.0,248.4 1223.8,248.0 1201.6,269.3 1172.8,255.4" fill="#b2c635"/><polygon points="1166.2,227.1 1195.0,248.4 1172.8,255.4 1144.0,244.8" fill="#f6ba3c"/><polygon points="1137.4,234.9 1166.2,227.1 1144.0,244.8 1115.2,232.2" fill="#f6ba3c"/><polygon points="1108.6,216.8 1137.4,234.9 1115.2,232.2 1086.4,216.4" fill="#f8d82c"/><polygon points="1505.2,99.6 1534.0,91.8 1511.9,107.5 1483.0,141.2" fill="#f9fb15"/><polygon points="1476.4,107.4 1505.2,99.6 1483.0,141.2 1454.2,149.0" fill="#f9fb15"/><polygon points="1447.6,115.2 1476.4,107.4 1454.2,149.0 1425.4,185.9" fill="#f9fb15"/><polygon points="1418.8,123.0 1447.6,115.2 1425.4,185.9 1396.6,201.2" fill="#f9fb15"/><polygon points="1390.0,187.4 1418.8,123.0 1396.6,201.2 1367.8,243.0" fill="#edba33"/><polygon points="1361.2,297.2 1390.0,187.4 1367.8,243.0 1339.0,299.9" fill="#03b7cc"/><polygon points="1332.3,437.6 1361.2,297.2 1339.0,299.9 1310.2,399.3" fill="#3e26a8"/><polygon points="1303.5,312.8 1332.3,437.6 1310.2,399.3 1281.4,315.6" fill="#03b7cc"/><polygon points="1274.7,218.7 1303.5,312.8 1281.4,315.6 1252.6,274.2" fill="#edba33"/><polygon points="1245.9,169.9 1274.7,218.7 1252.6,274.2 1223.8,248.0" fill="#f9fb15"/><polygon points="1217.1,177.7 1245.9,169.9 1223.8,248.0 1195.0,248.4" fill="#f9fb15"/><polygon points="1188.3,185.5 1217.1,177.7 1195.0,248.4 1166.2,227.1" fill="#f9fb15"/><polygon points="1159.5,193.3 1188.3,185.5 1166.2,227.1 1137.4,234.9" fill="#f9fb15"/><polygon points="1130.7,201.1 1159.5,193.3 1137.4,234.9 1108.6,216.8" fill="#f9fb15"/><polygon points="1527.3,161.5 1556.1,127.8 1534.0,91.8 1505.2,99.6" fill="#f6ba3c"/><polygon points="1498.5,169.3 1527.3,161.5 1505.2,99.6 1476.4,107.4" fill="#f6ba3c"/><polygon points="1469.7,206.2 1498.5,169.3 1476.4,107.4 1447.6,115.2" fill="#b2c635"/><polygon points="1440.9,221.5 1469.7,206.2 1447.6,115.2 1418.8,123.0" fill="#9cc944"/><polygon points="1412.1,263.3 1440.9,221.5 1418.8,123.0 1390.0,187.4" fill="#3bc992"/><polygon points="1383.3,320.2 1412.1,263.3 1390.0,187.4 1361.2,297.2" fill="#19addc"/><polygon points="1354.5,419.6 1383.3,320.2 1361.2,297.2 1332.3,437.6" fill="#4742e6"/><polygon points="1325.7,335.9 1354.5,419.6 1332.3,437.6 1303.5,312.8" fill="#19addc"/><polygon points="1296.9,294.5 1325.7,335.9 1303.5,312.8 1274.7,218.7" fill="#3bc992"/><polygon points="1268.1,268.3 1296.9,294.5 1274.7,218.7 1245.9,169.9" fill="#9cc944"/><polygon points="1239.3,268.7 1268.1,268.3 1245.9,169.9 1217.1,177.7" fill="#b2c635"/><polygon points="1210.5,247.4 1239.3,268.7 1217.1,177.7 1188.3,185.5" fill="#f6ba3c"/><polygon points="1181.7,255.2 1210.5,247.4 1188.3,185.5 1159.5,193.3" fill="#f6ba3c"/><polygon points="1152.8,237.1 1181.7,255.2 1159.5,193.3 1130.7,201.1" fill="#f8d82c"/><polygon points="1549.5,179.1 1578.3,147.7 1556.1,127.8 1527.3,161.5" fill="#e8bb2f"/><polygon points="1520.7,207.3 1549.5,179.1 1527.3,161.5 1498.5,169.3" fill="#b6c532"/><polygon points="1491.9,233.5 1520.7,207.3 1498.5,169.3 1469.7,206.2" fill="#7dcc5b"/><polygon points="1463.1,263.0 1491.9,233.5 1469.7,206.2 1440.9,221.5" fill="#40ca8d"/><polygon points="1434.2,305.8 1463.1,263.0 1440.9,221.5 1412.1,263.3" fill="#01b9c6"/><polygon points="1405.4,346.6 1434.2,305.8 1412.1,263.3 1383.3,320.2" fill="#249de6"/><polygon points="1376.6,421.3 1405.4,346.6 1383.3,320.2 1354.5,419.6" fill="#484cf0"/><polygon points="1347.8,362.2 1376.6,421.3 1354.5,419.6 1325.7,335.9" fill="#249de6"/><polygon points="1319.0,337.0 1347.8,362.2 1325.7,335.9 1296.9,294.5" fill="#01b9c6"/><polygon points="1290.2,309.9 1319.0,337.0 1296.9,294.5 1268.1,268.3" fill="#40ca8d"/><polygon points="1261.4,296.0 1290.2,309.9 1268.1,268.3 1239.3,268.7" fill="#7dcc5b"/><polygon points="1232.6,285.4 1261.4,296.0 1239.3,268.7 1210.5,247.4" fill="#b6c532"/><polygon points="1203.8,272.8 1232.6,285.4 1210.5,247.4 1181.7,255.2" fill="#e8bb2f"/><polygon points="1175.0,257.0 1203.8,272.8 1181.7,255.2 1152.8,237.1" fill="#fdcb33"/><polygon points="1571.6,211.3 1600.4,193.4 1578.3,147.7 1549.5,179.1" fill="#b1c635"/><polygon points="1542.8,236.5 1571.6,211.3 1549.5,179.1 1520.7,207.3" fill="#7bcc5d"/><polygon points="1514.0,274.1 1542.8,236.5 1520.7,207.3 1491.9,233.5" fill="#33c69e"/><polygon points="1485.2,298.4 1514.0,274.1 1491.9,233.5 1463.1,263.0" fill="#14beb8"/><polygon points="1456.4,334.4 1485.2,298.4 1463.1,263.0 1434.2,305.8" fill="#1aabdd"/><polygon points="1427.6,369.7 1456.4,334.4 1434.2,305.8 1405.4,346.6" fill="#2c8ff0"/><polygon points="1398.8,429.2 1427.6,369.7 1405.4,346.6 1376.6,421.3" fill="#484ff2"/><polygon points="1370.0,385.3 1398.8,429.2 1376.6,421.3 1347.8,362.2" fill="#2c8ff0"/><polygon points="1341.2,365.6 1370.0,385.3 1347.8,362.2 1319.0,337.0" fill="#1aabdd"/><polygon points="1312.4,345.2 1341.2,365.6 1319.0,337.0 1290.2,309.9" fill="#14beb8"/><polygon points="1283.5,336.6 1312.4,345.2 1290.2,309.9 1261.4,296.0" fill="#33c69e"/><polygon points="1254.7,314.6 1283.5,336.6 1261.4,296.0 1232.6,285.4" fill="#7bcc5d"/><polygon points="1225.9,304.9 1254.7,314.6 1232.6,285.4 1203.8,272.8" fill="#b1c635"/><polygon points="1197.1,302.7 1225.9,304.9 1203.8,272.8 1175.0,257.0" fill="#ccc028"/><polygon points="1593.8,245.0 1622.6,235.9 1600.4,193.4 1571.6,211.3" fill="#68cd6b"/><polygon points="1565.0,264.8 1593.8,245.0 1571.6,211.3 1542.8,236.5" fill="#47cb87"/><polygon points="1536.2,299.5 1565.0,264.8 1542.8,236.5 1514.0,274.1" fill="#17bfb6"/><polygon points="1507.3,323.8 1536.2,299.5 1514.0,274.1 1485.2,298.4" fill="#05b6ce"/><polygon points="1478.5,364.2 1507.3,323.8 1485.2,298.4 1456.4,334.4" fill="#2798ea"/><polygon points="1449.7,390.2 1478.5,364.2 1456.4,334.4 1427.6,369.7" fill="#2e83f9"/><polygon points="1420.9,437.4 1449.7,390.2 1427.6,369.7 1398.8,429.2" fill="#4851f4"/><polygon points="1392.1,405.8 1420.9,437.4 1398.8,429.2 1370.0,385.3" fill="#2e83f9"/><polygon points="1363.3,395.5 1392.1,405.8 1370.0,385.3 1341.2,365.6" fill="#2798ea"/><polygon points="1334.5,370.6 1363.3,395.5 1341.2,365.6 1312.4,345.2" fill="#05b6ce"/><polygon points="1305.7,361.9 1334.5,370.6 1312.4,345.2 1283.5,336.6" fill="#17bfb6"/><polygon points="1276.9,342.9 1305.7,361.9 1283.5,336.6 1254.7,314.6" fill="#47cb87"/><polygon points="1248.1,338.7 1276.9,342.9 1254.7,314.6 1225.9,304.9" fill="#68cd6b"/><polygon points="1219.3,345.2 1248.1,338.7 1225.9,304.9 1197.1,302.7" fill="#6ccd68"/><polygon points="1615.9,304.3 1644.7,288.1 1622.6,235.9 1593.8,245.0" fill="#01bac5"/><polygon points="1587.1,312.5 1615.9,304.3 1593.8,245.0 1565.0,264.8" fill="#01b9c6"/><polygon points="1558.3,327.7 1587.1,312.5 1565.0,264.8 1536.2,299.5" fill="#08b5d0"/><polygon points="1529.5,355.6 1558.3,327.7 1536.2,299.5 1507.3,323.8" fill="#21a3e3"/><polygon points="1500.7,390.9 1529.5,355.6 1507.3,323.8 1478.5,364.2" fill="#2e85f8"/><polygon points="1471.9,419.1 1500.7,390.9 1478.5,364.2 1449.7,390.2" fill="#416bfe"/><polygon points="1443.1,448.2 1471.9,419.1 1449.7,390.2 1420.9,437.4" fill="#4851f3"/><polygon points="1414.3,434.7 1443.1,448.2 1420.9,437.4 1392.1,405.8" fill="#416bfe"/><polygon points="1385.5,422.1 1414.3,434.7 1392.1,405.8 1363.3,395.5" fill="#2e85f8"/><polygon points="1356.6,402.4 1385.5,422.1 1363.3,395.5 1334.5,370.6" fill="#21a3e3"/><polygon points="1327.8,390.2 1356.6,402.4 1334.5,370.6 1305.7,361.9" fill="#08b5d0"/><polygon points="1299.0,390.5 1327.8,390.2 1305.7,361.9 1276.9,342.9" fill="#01b9c6"/><polygon points="1270.2,398.0 1299.0,390.5 1276.9,342.9 1248.1,338.7" fill="#01bac5"/><polygon points="1241.4,397.4 1270.2,398.0 1248.1,338.7 1219.3,345.2" fill="#12beb9"/><polygon points="1638.0,327.8 1666.9,298.3 1644.7,288.1 1615.9,304.3" fill="#13b0d7"/><polygon points="1609.2,343.3 1638.0,327.8 1615.9,304.3 1587.1,312.5" fill="#1caadf"/><polygon points="1580.4,352.8 1609.2,343.3 1587.1,312.5 1558.3,327.7" fill="#1da8e0"/><polygon points="1551.6,364.8 1580.4,352.8 1558.3,327.7 1529.5,355.6" fill="#20a4e3"/><polygon points="1522.8,402.0 1551.6,364.8 1529.5,355.6 1500.7,390.9" fill="#2e84f8"/><polygon points="1494.0,423.1 1522.8,402.0 1500.7,390.9 1471.9,419.1" fill="#3a73fe"/><polygon points="1465.2,459.0 1494.0,423.1 1471.9,419.1 1443.1,448.2" fill="#4850f2"/><polygon points="1436.4,438.7 1465.2,459.0 1443.1,448.2 1414.3,434.7" fill="#3a73fe"/><polygon points="1407.6,433.2 1436.4,438.7 1414.3,434.7 1385.5,422.1" fill="#2e84f8"/><polygon points="1378.8,411.6 1407.6,433.2 1385.5,422.1 1356.6,402.4" fill="#20a4e3"/><polygon points="1350.0,415.2 1378.8,411.6 1356.6,402.4 1327.8,390.2" fill="#1da8e0"/><polygon points="1321.2,421.4 1350.0,415.2 1327.8,390.2 1299.0,390.5" fill="#1caadf"/><polygon points="1292.4,421.4 1321.2,421.4 1299.0,390.5 1270.2,398.0" fill="#13b0d7"/><polygon points="1263.6,407.6 1292.4,421.4 1270.2,398.0 1241.4,397.4" fill="#12beb9"/><polygon points="1660.2,340.5 1689.0,308.4 1666.9,298.3 1638.0,327.8" fill="#17aeda"/><polygon points="1631.4,368.4 1660.2,340.5 1638.0,327.8 1609.2,343.3" fill="#259be8"/><polygon points="1602.6,383.6 1631.4,368.4 1609.2,343.3 1580.4,352.8" fill="#2a93ee"/><polygon points="1573.8,393.7 1602.6,383.6 1580.4,352.8 1551.6,364.8" fill="#2b90ef"/><polygon points="1545.0,410.5 1573.8,393.7 1551.6,364.8 1522.8,402.0" fill="#2e86f7"/><polygon points="1516.2,437.8 1545.0,410.5 1522.8,402.0 1494.0,423.1" fill="#406dfe"/><polygon points="1487.3,468.9 1516.2,437.8 1494.0,423.1 1465.2,459.0" fill="#4850f3"/><polygon points="1458.5,453.4 1487.3,468.9 1465.2,459.0 1436.4,438.7" fill="#406dfe"/><polygon points="1429.7,441.8 1458.5,453.4 1436.4,438.7 1407.6,433.2" fill="#2e86f7"/><polygon points="1400.9,440.5 1429.7,441.8 1407.6,433.2 1378.8,411.6" fill="#2b90ef"/><polygon points="1372.1,446.1 1400.9,440.5 1378.8,411.6 1350.0,415.2" fill="#2a93ee"/><polygon points="1343.3,446.4 1372.1,446.1 1350.0,415.2 1321.2,421.4" fill="#259be8"/><polygon points="1314.5,434.2 1343.3,446.4 1321.2,421.4 1292.4,421.4" fill="#17aeda"/><polygon points="1285.7,417.7 1314.5,434.2 1292.4,421.4 1263.6,407.6" fill="#12beb9"/></g>
<line x1="975.7" y1="421.2" x2="975.7" y2="111.5" stroke="#262626" stroke-width="2.1" stroke-linecap="square"/>
<line x1="975.7" y1="421.2" x2="1285.7" y2="563.3" stroke="#262626" stroke-width="2.1" stroke-linecap="square"/>
<line x1="1285.7" y1="563.3" x2="1689.0" y2="454.0" stroke="#262626" stroke-width="2.1" stroke-linecap="square"/>
<line x1="1285.7" y1="563.3" x2="1295.7" y2="567.9" stroke="#262626" stroke-width="1.5" stroke-linecap="square"/>
<line x1="1285.7" y1="563.3" x2="1275.1" y2="566.2" stroke="#262626" stroke-width="1.5" stroke-linecap="square"/>
<line x1="1386.5" y1="536.0" x2="1396.5" y2="540.6" stroke="#262626" stroke-width="1.5" stroke-linecap="square"/>
<line x1="1208.2" y1="527.8" x2="1197.6" y2="530.7" stroke="#262626" stroke-width="1.5" stroke-linecap="square"/>
<line x1="1487.3" y1="508.6" x2="1497.3" y2="513.2" stroke="#262626" stroke-width="1.5" stroke-linecap="square"/>
<line x1="1130.7" y1="492.2" x2="1120.1" y2="495.1" stroke="#262626" stroke-width="1.5" stroke-linecap="square"/>
<line x1="1588.2" y1="481.3" x2="1598.2" y2="485.9" stroke="#262626" stroke-width="1.5" stroke-linecap="square"/>
<line x1="1053.2" y1="456.7" x2="1042.6" y2="459.6" stroke="#262626" stroke-width="1.5" stroke-linecap="square"/>
<line x1="1689.0" y1="454.0" x2="1699.0" y2="458.6" stroke="#262626" stroke-width="1.5" stroke-linecap="square"/>
<line x1="975.7" y1="421.2" x2="965.1" y2="424.1" stroke="#262626" stroke-width="1.5" stroke-linecap="square"/>
<line x1="975.7" y1="372.3" x2="965.7" y2="367.7" stroke="#262626" stroke-width="1.5" stroke-linecap="square"/>
<line x1="975.7" y1="307.1" x2="965.7" y2="302.5" stroke="#262626" stroke-width="1.5" stroke-linecap="square"/>
<line x1="975.7" y1="241.9" x2="965.7" y2="237.3" stroke="#262626" stroke-width="1.5" stroke-linecap="square"/>
<line x1="975.7" y1="176.7" x2="965.7" y2="172.1" stroke="#262626" stroke-width="1.5" stroke-linecap="square"/>
<line x1="975.7" y1="111.5" x2="965.7" y2="106.9" stroke="#262626" stroke-width="1.5" stroke-linecap="square"/>
<text transform="translate(956.7,112.6) scale(1.200,1)" font-size="22" text-anchor="end" font-weight="bold">1</text>
<text transform="translate(956.7,177.8) scale(1.200,1)" font-size="22" text-anchor="end" font-weight="bold">0.8</text>
<text transform="translate(956.7,243.0) scale(1.200,1)" font-size="22" text-anchor="end" font-weight="bold">0.6</text>
<text transform="translate(956.7,308.2) scale(1.200,1)" font-size="22" text-anchor="end" font-weight="bold">0.4</text>
<text transform="translate(956.7,373.4) scale(1.200,1)" font-size="22" text-anchor="end" font-weight="bold">0.2</text>
<text transform="translate(947.6,448.3) scale(1.200,1)" font-size="22" text-anchor="middle" font-weight="bold">1</text>
<text transform="translate(1014.9,484.0) scale(1.200,1)" font-size="22" text-anchor="middle" font-weight="bold">0.5</text>
<text transform="translate(1103.1,518.9) scale(1.200,1)" font-size="22" text-anchor="middle" font-weight="bold">0</text>
<text transform="translate(1165.9,554.6) scale(1.200,1)" font-size="22" text-anchor="middle" font-weight="bold">-0.5</text>
<text transform="translate(1252.1,589.6) scale(1.200,1)" font-size="22" text-anchor="middle" font-weight="bold">-1</text>
<text transform="translate(1313.7,593.1) scale(1.200,1)" font-size="22" text-anchor="middle" font-weight="bold">-1</text>
<text transform="translate(1427.7,565.6) scale(1.200,1)" font-size="22" text-anchor="middle" font-weight="bold">-0.5</text>
<text transform="translate(1511.8,538.2) scale(1.200,1)" font-size="22" text-anchor="middle" font-weight="bold">0</text>
<text transform="translate(1624.1,511.3) scale(1.200,1)" font-size="22" text-anchor="middle" font-weight="bold">0.5</text>
<text transform="translate(1713.0,483.9) scale(1.200,1)" font-size="22" text-anchor="middle" font-weight="bold">1</text>
<text transform="translate(1007.0,542.9) scale(1.220,1)" font-size="24" text-anchor="middle" font-weight="bold" font-style="italic">ec(t)</text>
<text transform="translate(1593.3,560.1) scale(1.220,1)" font-size="24" text-anchor="middle" font-weight="bold" font-style="italic">e(t)</text>
<text transform="translate(891.9,277.6) rotate(-90) scale(1.3,1.12)" style="font-family:'Liberation Serif',serif;font-weight:normal;font-style:italic" font-size="23">τ</text>
<text transform="translate(906.0,267.0) rotate(-90) scale(1,1.18)" style="font-weight:normal" font-size="21">2</text>
</svg>
</body></html>
